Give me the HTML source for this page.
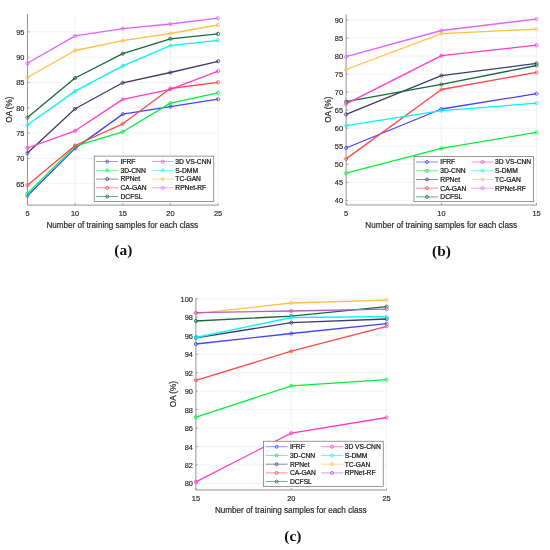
<!DOCTYPE html>
<html><head><meta charset="utf-8"><title>OA vs training samples</title>
<style>
html,body{margin:0;padding:0;background:#fff;}
svg{display:block}
.t{font-family:"Liberation Sans",sans-serif;font-size:7.4px;fill:#2e2e2e;stroke:#2e2e2e;stroke-width:0.2px}
.l{font-family:"Liberation Sans",sans-serif;font-size:8.13px;fill:#2e2e2e;stroke:#2e2e2e;stroke-width:0.2px}
.g{font-family:"Liberation Sans",sans-serif;font-size:6.7px;fill:#151515;stroke:#151515;stroke-width:0.22px}
.c{font-family:"Liberation Serif",serif;font-weight:bold;font-size:15.4px;fill:#111}
</style></head><body>
<svg width="550" height="550" viewBox="0 0 550 550">
<rect width="550" height="550" fill="#fff"/>
<g><line x1="75.1" y1="14.1" x2="75.1" y2="205.1" stroke="#efefef" stroke-width="0.8"/>
<line x1="122.75" y1="14.1" x2="122.75" y2="205.1" stroke="#efefef" stroke-width="0.8"/>
<line x1="170.4" y1="14.1" x2="170.4" y2="205.1" stroke="#efefef" stroke-width="0.8"/>
<line x1="218.05" y1="14.1" x2="218.05" y2="205.1" stroke="#efefef" stroke-width="0.8"/>
<line x1="27.45" y1="31.85" x2="218.05" y2="31.85" stroke="#efefef" stroke-width="0.8"/>
<line x1="27.45" y1="57.15" x2="218.05" y2="57.15" stroke="#efefef" stroke-width="0.8"/>
<line x1="27.45" y1="82.45" x2="218.05" y2="82.45" stroke="#efefef" stroke-width="0.8"/>
<line x1="27.45" y1="107.75" x2="218.05" y2="107.75" stroke="#efefef" stroke-width="0.8"/>
<line x1="27.45" y1="133.05" x2="218.05" y2="133.05" stroke="#efefef" stroke-width="0.8"/>
<line x1="27.45" y1="158.35" x2="218.05" y2="158.35" stroke="#efefef" stroke-width="0.8"/>
<line x1="27.45" y1="183.65" x2="218.05" y2="183.65" stroke="#efefef" stroke-width="0.8"/>
<path d="M27.45 14.1V205.1H218.45000000000002" fill="none" stroke="#8a8a8a" stroke-width="0.92"/>
<line x1="27.45" y1="205.1" x2="27.45" y2="203.1" stroke="#8a8a8a" stroke-width="0.7"/>
<line x1="75.1" y1="205.1" x2="75.1" y2="203.1" stroke="#8a8a8a" stroke-width="0.7"/>
<line x1="122.75" y1="205.1" x2="122.75" y2="203.1" stroke="#8a8a8a" stroke-width="0.7"/>
<line x1="170.4" y1="205.1" x2="170.4" y2="203.1" stroke="#8a8a8a" stroke-width="0.7"/>
<line x1="218.05" y1="205.1" x2="218.05" y2="203.1" stroke="#8a8a8a" stroke-width="0.7"/>
<line x1="27.45" y1="31.85" x2="29.45" y2="31.85" stroke="#8a8a8a" stroke-width="0.7"/>
<line x1="27.45" y1="57.15" x2="29.45" y2="57.15" stroke="#8a8a8a" stroke-width="0.7"/>
<line x1="27.45" y1="82.45" x2="29.45" y2="82.45" stroke="#8a8a8a" stroke-width="0.7"/>
<line x1="27.45" y1="107.75" x2="29.45" y2="107.75" stroke="#8a8a8a" stroke-width="0.7"/>
<line x1="27.45" y1="133.05" x2="29.45" y2="133.05" stroke="#8a8a8a" stroke-width="0.7"/>
<line x1="27.45" y1="158.35" x2="29.45" y2="158.35" stroke="#8a8a8a" stroke-width="0.7"/>
<line x1="27.45" y1="183.65" x2="29.45" y2="183.65" stroke="#8a8a8a" stroke-width="0.7"/>
<text x="27.45" y="216.2" text-anchor="middle" class="t">5</text>
<text x="75.1" y="216.2" text-anchor="middle" class="t">10</text>
<text x="122.75" y="216.2" text-anchor="middle" class="t">15</text>
<text x="170.4" y="216.2" text-anchor="middle" class="t">20</text>
<text x="218.05" y="216.2" text-anchor="middle" class="t">25</text>
<text x="24.45" y="34.85" text-anchor="end" class="t">95</text>
<text x="24.45" y="60.15" text-anchor="end" class="t">90</text>
<text x="24.45" y="85.45" text-anchor="end" class="t">85</text>
<text x="24.45" y="110.75" text-anchor="end" class="t">80</text>
<text x="24.45" y="136.05" text-anchor="end" class="t">75</text>
<text x="24.45" y="161.35" text-anchor="end" class="t">70</text>
<text x="24.45" y="186.65" text-anchor="end" class="t">65</text>
<text transform="translate(11.6 109.6) rotate(-90)" text-anchor="middle" class="l">OA (%)</text>
<text x="122.3" y="227.85" text-anchor="middle" class="l">Number of training samples for each class</text>
<polyline points="27.45,195.7 75.1,148.4 122.75,114.1 170.4,106.7 218.05,99.2" fill="none" stroke="#4444ff" stroke-width="1.3" stroke-linejoin="round"/>
<circle cx="27.45" cy="195.7" r="1.6" fill="none" stroke="#4444ff" stroke-width="0.8"/>
<circle cx="75.1" cy="148.4" r="1.6" fill="none" stroke="#4444ff" stroke-width="0.8"/>
<circle cx="122.75" cy="114.1" r="1.6" fill="none" stroke="#4444ff" stroke-width="0.8"/>
<circle cx="170.4" cy="106.7" r="1.6" fill="none" stroke="#4444ff" stroke-width="0.8"/>
<circle cx="218.05" cy="99.2" r="1.6" fill="none" stroke="#4444ff" stroke-width="0.8"/>
<polyline points="27.45,193.5 75.1,146.1 122.75,131.8 170.4,103.1 218.05,92.8" fill="none" stroke="#00f03c" stroke-width="1.3" stroke-linejoin="round"/>
<circle cx="27.45" cy="193.5" r="1.6" fill="none" stroke="#00f03c" stroke-width="0.8"/>
<circle cx="75.1" cy="146.1" r="1.6" fill="none" stroke="#00f03c" stroke-width="0.8"/>
<circle cx="122.75" cy="131.8" r="1.6" fill="none" stroke="#00f03c" stroke-width="0.8"/>
<circle cx="170.4" cy="103.1" r="1.6" fill="none" stroke="#00f03c" stroke-width="0.8"/>
<circle cx="218.05" cy="92.8" r="1.6" fill="none" stroke="#00f03c" stroke-width="0.8"/>
<polyline points="27.45,153.1 75.1,108.8 122.75,82.8 170.4,72.5 218.05,61.3" fill="none" stroke="#3c3c6e" stroke-width="1.3" stroke-linejoin="round"/>
<circle cx="27.45" cy="153.1" r="1.6" fill="none" stroke="#3c3c6e" stroke-width="0.8"/>
<circle cx="75.1" cy="108.8" r="1.6" fill="none" stroke="#3c3c6e" stroke-width="0.8"/>
<circle cx="122.75" cy="82.8" r="1.6" fill="none" stroke="#3c3c6e" stroke-width="0.8"/>
<circle cx="170.4" cy="72.5" r="1.6" fill="none" stroke="#3c3c6e" stroke-width="0.8"/>
<circle cx="218.05" cy="61.3" r="1.6" fill="none" stroke="#3c3c6e" stroke-width="0.8"/>
<polyline points="27.45,185.2 75.1,145.5 122.75,123.8 170.4,88.5 218.05,82.3" fill="none" stroke="#ff4848" stroke-width="1.3" stroke-linejoin="round"/>
<circle cx="27.45" cy="185.2" r="1.6" fill="none" stroke="#ff4848" stroke-width="0.8"/>
<circle cx="75.1" cy="145.5" r="1.6" fill="none" stroke="#ff4848" stroke-width="0.8"/>
<circle cx="122.75" cy="123.8" r="1.6" fill="none" stroke="#ff4848" stroke-width="0.8"/>
<circle cx="170.4" cy="88.5" r="1.6" fill="none" stroke="#ff4848" stroke-width="0.8"/>
<circle cx="218.05" cy="82.3" r="1.6" fill="none" stroke="#ff4848" stroke-width="0.8"/>
<polyline points="27.45,117.6 75.1,78.0 122.75,53.7 170.4,38.8 218.05,33.9" fill="none" stroke="#17683a" stroke-width="1.3" stroke-linejoin="round"/>
<circle cx="27.45" cy="117.6" r="1.6" fill="none" stroke="#17683a" stroke-width="0.8"/>
<circle cx="75.1" cy="78.0" r="1.6" fill="none" stroke="#17683a" stroke-width="0.8"/>
<circle cx="122.75" cy="53.7" r="1.6" fill="none" stroke="#17683a" stroke-width="0.8"/>
<circle cx="170.4" cy="38.8" r="1.6" fill="none" stroke="#17683a" stroke-width="0.8"/>
<circle cx="218.05" cy="33.9" r="1.6" fill="none" stroke="#17683a" stroke-width="0.8"/>
<polyline points="27.45,148.0 75.1,130.8 122.75,99.4 170.4,89.3 218.05,71.2" fill="none" stroke="#ff3cc8" stroke-width="1.3" stroke-linejoin="round"/>
<circle cx="27.45" cy="148.0" r="1.6" fill="none" stroke="#ff3cc8" stroke-width="0.8"/>
<circle cx="75.1" cy="130.8" r="1.6" fill="none" stroke="#ff3cc8" stroke-width="0.8"/>
<circle cx="122.75" cy="99.4" r="1.6" fill="none" stroke="#ff3cc8" stroke-width="0.8"/>
<circle cx="170.4" cy="89.3" r="1.6" fill="none" stroke="#ff3cc8" stroke-width="0.8"/>
<circle cx="218.05" cy="71.2" r="1.6" fill="none" stroke="#ff3cc8" stroke-width="0.8"/>
<polyline points="27.45,125.0 75.1,91.1 122.75,65.9 170.4,45.7 218.05,40.3" fill="none" stroke="#00f5f5" stroke-width="1.3" stroke-linejoin="round"/>
<circle cx="27.45" cy="125.0" r="1.6" fill="none" stroke="#00f5f5" stroke-width="0.8"/>
<circle cx="75.1" cy="91.1" r="1.6" fill="none" stroke="#00f5f5" stroke-width="0.8"/>
<circle cx="122.75" cy="65.9" r="1.6" fill="none" stroke="#00f5f5" stroke-width="0.8"/>
<circle cx="170.4" cy="45.7" r="1.6" fill="none" stroke="#00f5f5" stroke-width="0.8"/>
<circle cx="218.05" cy="40.3" r="1.6" fill="none" stroke="#00f5f5" stroke-width="0.8"/>
<polyline points="27.45,77.5 75.1,50.5 122.75,40.7 170.4,33.5 218.05,25.0" fill="none" stroke="#ffbf48" stroke-width="1.3" stroke-linejoin="round"/>
<circle cx="27.45" cy="77.5" r="1.6" fill="none" stroke="#ffbf48" stroke-width="0.8"/>
<circle cx="75.1" cy="50.5" r="1.6" fill="none" stroke="#ffbf48" stroke-width="0.8"/>
<circle cx="122.75" cy="40.7" r="1.6" fill="none" stroke="#ffbf48" stroke-width="0.8"/>
<circle cx="170.4" cy="33.5" r="1.6" fill="none" stroke="#ffbf48" stroke-width="0.8"/>
<circle cx="218.05" cy="25.0" r="1.6" fill="none" stroke="#ffbf48" stroke-width="0.8"/>
<polyline points="27.45,63.3 75.1,35.9 122.75,28.7 170.4,24.0 218.05,18.2" fill="none" stroke="#e264ff" stroke-width="1.3" stroke-linejoin="round"/>
<circle cx="27.45" cy="63.3" r="1.6" fill="none" stroke="#e264ff" stroke-width="0.8"/>
<circle cx="75.1" cy="35.9" r="1.6" fill="none" stroke="#e264ff" stroke-width="0.8"/>
<circle cx="122.75" cy="28.7" r="1.6" fill="none" stroke="#e264ff" stroke-width="0.8"/>
<circle cx="170.4" cy="24.0" r="1.6" fill="none" stroke="#e264ff" stroke-width="0.8"/>
<circle cx="218.05" cy="18.2" r="1.6" fill="none" stroke="#e264ff" stroke-width="0.8"/>
<rect x="94.2" y="156.1" width="119.6" height="45.2" fill="#fff" stroke="#555" stroke-width="0.6"/>
<line x1="96.2" y1="161.6" x2="118.2" y2="161.6" stroke="#4444ff" stroke-width="0.7" opacity="0.85"/>
<circle cx="107.2" cy="161.6" r="1.5" fill="none" stroke="#4444ff" stroke-width="0.8"/>
<text x="120.5" y="163.95" class="g">IFRF</text>
<line x1="96.2" y1="170.35" x2="118.2" y2="170.35" stroke="#00f03c" stroke-width="0.7" opacity="0.85"/>
<circle cx="107.2" cy="170.35" r="1.5" fill="none" stroke="#00f03c" stroke-width="0.8"/>
<text x="120.5" y="172.7" class="g">3D-CNN</text>
<line x1="96.2" y1="179.1" x2="118.2" y2="179.1" stroke="#3c3c6e" stroke-width="0.7" opacity="0.85"/>
<circle cx="107.2" cy="179.1" r="1.5" fill="none" stroke="#3c3c6e" stroke-width="0.8"/>
<text x="120.5" y="181.45" class="g">RPNet</text>
<line x1="96.2" y1="187.79999999999998" x2="118.2" y2="187.79999999999998" stroke="#ff4848" stroke-width="0.7" opacity="0.85"/>
<circle cx="107.2" cy="187.79999999999998" r="1.5" fill="none" stroke="#ff4848" stroke-width="0.8"/>
<text x="120.5" y="190.14999999999998" class="g">CA-GAN</text>
<line x1="96.2" y1="196.5" x2="118.2" y2="196.5" stroke="#17683a" stroke-width="0.7" opacity="0.85"/>
<circle cx="107.2" cy="196.5" r="1.5" fill="none" stroke="#17683a" stroke-width="0.8"/>
<text x="120.5" y="198.85" class="g">DCFSL</text>
<line x1="151.7" y1="161.6" x2="173.7" y2="161.6" stroke="#ff3cc8" stroke-width="0.7" opacity="0.85"/>
<circle cx="162.7" cy="161.6" r="1.5" fill="none" stroke="#ff3cc8" stroke-width="0.8"/>
<text x="175.29999999999998" y="163.95" class="g">3D VS-CNN</text>
<line x1="151.7" y1="170.35" x2="173.7" y2="170.35" stroke="#00f5f5" stroke-width="0.7" opacity="0.85"/>
<circle cx="162.7" cy="170.35" r="1.5" fill="none" stroke="#00f5f5" stroke-width="0.8"/>
<text x="175.29999999999998" y="172.7" class="g">S-DMM</text>
<line x1="151.7" y1="179.1" x2="173.7" y2="179.1" stroke="#ffbf48" stroke-width="0.7" opacity="0.85"/>
<circle cx="162.7" cy="179.1" r="1.5" fill="none" stroke="#ffbf48" stroke-width="0.8"/>
<text x="175.29999999999998" y="181.45" class="g">TC-GAN</text>
<line x1="151.7" y1="187.79999999999998" x2="173.7" y2="187.79999999999998" stroke="#e264ff" stroke-width="0.7" opacity="0.85"/>
<circle cx="162.7" cy="187.79999999999998" r="1.5" fill="none" stroke="#e264ff" stroke-width="0.8"/>
<text x="175.29999999999998" y="190.14999999999998" class="g">RPNet-RF</text>
<text x="123.3" y="255.2" text-anchor="middle" class="c">(a)</text></g>
<g><line x1="441.4" y1="14.5" x2="441.4" y2="205.0" stroke="#efefef" stroke-width="0.8"/>
<line x1="536.5" y1="14.5" x2="536.5" y2="205.0" stroke="#efefef" stroke-width="0.8"/>
<line x1="346.1" y1="19.95" x2="536.5" y2="19.95" stroke="#efefef" stroke-width="0.8"/>
<line x1="346.1" y1="38.0" x2="536.5" y2="38.0" stroke="#efefef" stroke-width="0.8"/>
<line x1="346.1" y1="56.04" x2="536.5" y2="56.04" stroke="#efefef" stroke-width="0.8"/>
<line x1="346.1" y1="74.09" x2="536.5" y2="74.09" stroke="#efefef" stroke-width="0.8"/>
<line x1="346.1" y1="92.13" x2="536.5" y2="92.13" stroke="#efefef" stroke-width="0.8"/>
<line x1="346.1" y1="110.18" x2="536.5" y2="110.18" stroke="#efefef" stroke-width="0.8"/>
<line x1="346.1" y1="128.22" x2="536.5" y2="128.22" stroke="#efefef" stroke-width="0.8"/>
<line x1="346.1" y1="146.27" x2="536.5" y2="146.27" stroke="#efefef" stroke-width="0.8"/>
<line x1="346.1" y1="164.31" x2="536.5" y2="164.31" stroke="#efefef" stroke-width="0.8"/>
<line x1="346.1" y1="182.36" x2="536.5" y2="182.36" stroke="#efefef" stroke-width="0.8"/>
<line x1="346.1" y1="200.4" x2="536.5" y2="200.4" stroke="#efefef" stroke-width="0.8"/>
<path d="M346.1 14.5V205.0H536.9" fill="none" stroke="#8a8a8a" stroke-width="0.92"/>
<line x1="346.1" y1="205.0" x2="346.1" y2="203.0" stroke="#8a8a8a" stroke-width="0.7"/>
<line x1="441.4" y1="205.0" x2="441.4" y2="203.0" stroke="#8a8a8a" stroke-width="0.7"/>
<line x1="536.5" y1="205.0" x2="536.5" y2="203.0" stroke="#8a8a8a" stroke-width="0.7"/>
<line x1="346.1" y1="19.95" x2="348.1" y2="19.95" stroke="#8a8a8a" stroke-width="0.7"/>
<line x1="346.1" y1="38.0" x2="348.1" y2="38.0" stroke="#8a8a8a" stroke-width="0.7"/>
<line x1="346.1" y1="56.04" x2="348.1" y2="56.04" stroke="#8a8a8a" stroke-width="0.7"/>
<line x1="346.1" y1="74.09" x2="348.1" y2="74.09" stroke="#8a8a8a" stroke-width="0.7"/>
<line x1="346.1" y1="92.13" x2="348.1" y2="92.13" stroke="#8a8a8a" stroke-width="0.7"/>
<line x1="346.1" y1="110.18" x2="348.1" y2="110.18" stroke="#8a8a8a" stroke-width="0.7"/>
<line x1="346.1" y1="128.22" x2="348.1" y2="128.22" stroke="#8a8a8a" stroke-width="0.7"/>
<line x1="346.1" y1="146.27" x2="348.1" y2="146.27" stroke="#8a8a8a" stroke-width="0.7"/>
<line x1="346.1" y1="164.31" x2="348.1" y2="164.31" stroke="#8a8a8a" stroke-width="0.7"/>
<line x1="346.1" y1="182.36" x2="348.1" y2="182.36" stroke="#8a8a8a" stroke-width="0.7"/>
<line x1="346.1" y1="200.4" x2="348.1" y2="200.4" stroke="#8a8a8a" stroke-width="0.7"/>
<text x="346.1" y="216.1" text-anchor="middle" class="t">5</text>
<text x="441.4" y="216.1" text-anchor="middle" class="t">10</text>
<text x="536.5" y="216.1" text-anchor="middle" class="t">15</text>
<text x="343.1" y="22.95" text-anchor="end" class="t">90</text>
<text x="343.1" y="41.0" text-anchor="end" class="t">85</text>
<text x="343.1" y="59.04" text-anchor="end" class="t">80</text>
<text x="343.1" y="77.09" text-anchor="end" class="t">75</text>
<text x="343.1" y="95.13" text-anchor="end" class="t">70</text>
<text x="343.1" y="113.18" text-anchor="end" class="t">65</text>
<text x="343.1" y="131.22" text-anchor="end" class="t">60</text>
<text x="343.1" y="149.27" text-anchor="end" class="t">55</text>
<text x="343.1" y="167.31" text-anchor="end" class="t">50</text>
<text x="343.1" y="185.36" text-anchor="end" class="t">45</text>
<text x="343.1" y="203.4" text-anchor="end" class="t">40</text>
<text transform="translate(331.2 109.75) rotate(-90)" text-anchor="middle" class="l">OA (%)</text>
<text x="441.2" y="227.85" text-anchor="middle" class="l">Number of training samples for each class</text>
<polyline points="346.1,148.0 441.4,109.0 536.5,93.7" fill="none" stroke="#4444ff" stroke-width="1.3" stroke-linejoin="round"/>
<circle cx="346.1" cy="148.0" r="1.6" fill="none" stroke="#4444ff" stroke-width="0.8"/>
<circle cx="441.4" cy="109.0" r="1.6" fill="none" stroke="#4444ff" stroke-width="0.8"/>
<circle cx="536.5" cy="93.7" r="1.6" fill="none" stroke="#4444ff" stroke-width="0.8"/>
<polyline points="346.1,173.2 441.4,148.4 536.5,132.3" fill="none" stroke="#00f03c" stroke-width="1.3" stroke-linejoin="round"/>
<circle cx="346.1" cy="173.2" r="1.6" fill="none" stroke="#00f03c" stroke-width="0.8"/>
<circle cx="441.4" cy="148.4" r="1.6" fill="none" stroke="#00f03c" stroke-width="0.8"/>
<circle cx="536.5" cy="132.3" r="1.6" fill="none" stroke="#00f03c" stroke-width="0.8"/>
<polyline points="346.1,114.4 441.4,75.6 536.5,63.4" fill="none" stroke="#3c3c6e" stroke-width="1.3" stroke-linejoin="round"/>
<circle cx="346.1" cy="114.4" r="1.6" fill="none" stroke="#3c3c6e" stroke-width="0.8"/>
<circle cx="441.4" cy="75.6" r="1.6" fill="none" stroke="#3c3c6e" stroke-width="0.8"/>
<circle cx="536.5" cy="63.4" r="1.6" fill="none" stroke="#3c3c6e" stroke-width="0.8"/>
<polyline points="346.1,158.9 441.4,89.5 536.5,72.4" fill="none" stroke="#ff4848" stroke-width="1.3" stroke-linejoin="round"/>
<circle cx="346.1" cy="158.9" r="1.6" fill="none" stroke="#ff4848" stroke-width="0.8"/>
<circle cx="441.4" cy="89.5" r="1.6" fill="none" stroke="#ff4848" stroke-width="0.8"/>
<circle cx="536.5" cy="72.4" r="1.6" fill="none" stroke="#ff4848" stroke-width="0.8"/>
<polyline points="346.1,101.6 441.4,84.4 536.5,65.5" fill="none" stroke="#17683a" stroke-width="1.3" stroke-linejoin="round"/>
<circle cx="346.1" cy="101.6" r="1.6" fill="none" stroke="#17683a" stroke-width="0.8"/>
<circle cx="441.4" cy="84.4" r="1.6" fill="none" stroke="#17683a" stroke-width="0.8"/>
<circle cx="536.5" cy="65.5" r="1.6" fill="none" stroke="#17683a" stroke-width="0.8"/>
<polyline points="346.1,103.9 441.4,55.7 536.5,45.2" fill="none" stroke="#ff3cc8" stroke-width="1.3" stroke-linejoin="round"/>
<circle cx="346.1" cy="103.9" r="1.6" fill="none" stroke="#ff3cc8" stroke-width="0.8"/>
<circle cx="441.4" cy="55.7" r="1.6" fill="none" stroke="#ff3cc8" stroke-width="0.8"/>
<circle cx="536.5" cy="45.2" r="1.6" fill="none" stroke="#ff3cc8" stroke-width="0.8"/>
<polyline points="346.1,125.7 441.4,110.7 536.5,103.2" fill="none" stroke="#00f5f5" stroke-width="1.3" stroke-linejoin="round"/>
<circle cx="346.1" cy="125.7" r="1.6" fill="none" stroke="#00f5f5" stroke-width="0.8"/>
<circle cx="441.4" cy="110.7" r="1.6" fill="none" stroke="#00f5f5" stroke-width="0.8"/>
<circle cx="536.5" cy="103.2" r="1.6" fill="none" stroke="#00f5f5" stroke-width="0.8"/>
<polyline points="346.1,69.5 441.4,33.7 536.5,29.1" fill="none" stroke="#ffbf48" stroke-width="1.3" stroke-linejoin="round"/>
<circle cx="346.1" cy="69.5" r="1.6" fill="none" stroke="#ffbf48" stroke-width="0.8"/>
<circle cx="441.4" cy="33.7" r="1.6" fill="none" stroke="#ffbf48" stroke-width="0.8"/>
<circle cx="536.5" cy="29.1" r="1.6" fill="none" stroke="#ffbf48" stroke-width="0.8"/>
<polyline points="346.1,56.7 441.4,30.5 536.5,19.1" fill="none" stroke="#e264ff" stroke-width="1.3" stroke-linejoin="round"/>
<circle cx="346.1" cy="56.7" r="1.6" fill="none" stroke="#e264ff" stroke-width="0.8"/>
<circle cx="441.4" cy="30.5" r="1.6" fill="none" stroke="#e264ff" stroke-width="0.8"/>
<circle cx="536.5" cy="19.1" r="1.6" fill="none" stroke="#e264ff" stroke-width="0.8"/>
<rect x="414.0" y="156.5" width="119.6" height="45.2" fill="#fff" stroke="#555" stroke-width="0.6"/>
<line x1="416.0" y1="162.0" x2="438.0" y2="162.0" stroke="#4444ff" stroke-width="0.7" opacity="0.85"/>
<circle cx="427.0" cy="162.0" r="1.5" fill="none" stroke="#4444ff" stroke-width="0.8"/>
<text x="440.3" y="164.35" class="g">IFRF</text>
<line x1="416.0" y1="170.75" x2="438.0" y2="170.75" stroke="#00f03c" stroke-width="0.7" opacity="0.85"/>
<circle cx="427.0" cy="170.75" r="1.5" fill="none" stroke="#00f03c" stroke-width="0.8"/>
<text x="440.3" y="173.1" class="g">3D-CNN</text>
<line x1="416.0" y1="179.5" x2="438.0" y2="179.5" stroke="#3c3c6e" stroke-width="0.7" opacity="0.85"/>
<circle cx="427.0" cy="179.5" r="1.5" fill="none" stroke="#3c3c6e" stroke-width="0.8"/>
<text x="440.3" y="181.85" class="g">RPNet</text>
<line x1="416.0" y1="188.2" x2="438.0" y2="188.2" stroke="#ff4848" stroke-width="0.7" opacity="0.85"/>
<circle cx="427.0" cy="188.2" r="1.5" fill="none" stroke="#ff4848" stroke-width="0.8"/>
<text x="440.3" y="190.54999999999998" class="g">CA-GAN</text>
<line x1="416.0" y1="196.9" x2="438.0" y2="196.9" stroke="#17683a" stroke-width="0.7" opacity="0.85"/>
<circle cx="427.0" cy="196.9" r="1.5" fill="none" stroke="#17683a" stroke-width="0.8"/>
<text x="440.3" y="199.25" class="g">DCFSL</text>
<line x1="471.5" y1="162.0" x2="493.5" y2="162.0" stroke="#ff3cc8" stroke-width="0.7" opacity="0.85"/>
<circle cx="482.5" cy="162.0" r="1.5" fill="none" stroke="#ff3cc8" stroke-width="0.8"/>
<text x="495.1" y="164.35" class="g">3D VS-CNN</text>
<line x1="471.5" y1="170.75" x2="493.5" y2="170.75" stroke="#00f5f5" stroke-width="0.7" opacity="0.85"/>
<circle cx="482.5" cy="170.75" r="1.5" fill="none" stroke="#00f5f5" stroke-width="0.8"/>
<text x="495.1" y="173.1" class="g">S-DMM</text>
<line x1="471.5" y1="179.5" x2="493.5" y2="179.5" stroke="#ffbf48" stroke-width="0.7" opacity="0.85"/>
<circle cx="482.5" cy="179.5" r="1.5" fill="none" stroke="#ffbf48" stroke-width="0.8"/>
<text x="495.1" y="181.85" class="g">TC-GAN</text>
<line x1="471.5" y1="188.2" x2="493.5" y2="188.2" stroke="#e264ff" stroke-width="0.7" opacity="0.85"/>
<circle cx="482.5" cy="188.2" r="1.5" fill="none" stroke="#e264ff" stroke-width="0.8"/>
<text x="495.1" y="190.54999999999998" class="g">RPNet-RF</text>
<text x="441.5" y="255.8" text-anchor="middle" class="c">(b)</text></g>
<g><line x1="291.3" y1="298.2" x2="291.3" y2="490.0" stroke="#efefef" stroke-width="0.8"/>
<line x1="386.6" y1="298.2" x2="386.6" y2="490.0" stroke="#efefef" stroke-width="0.8"/>
<line x1="195.9" y1="298.9" x2="386.6" y2="298.9" stroke="#efefef" stroke-width="0.8"/>
<line x1="195.9" y1="317.35" x2="386.6" y2="317.35" stroke="#efefef" stroke-width="0.8"/>
<line x1="195.9" y1="335.8" x2="386.6" y2="335.8" stroke="#efefef" stroke-width="0.8"/>
<line x1="195.9" y1="354.25" x2="386.6" y2="354.25" stroke="#efefef" stroke-width="0.8"/>
<line x1="195.9" y1="372.7" x2="386.6" y2="372.7" stroke="#efefef" stroke-width="0.8"/>
<line x1="195.9" y1="391.15" x2="386.6" y2="391.15" stroke="#efefef" stroke-width="0.8"/>
<line x1="195.9" y1="409.6" x2="386.6" y2="409.6" stroke="#efefef" stroke-width="0.8"/>
<line x1="195.9" y1="428.05" x2="386.6" y2="428.05" stroke="#efefef" stroke-width="0.8"/>
<line x1="195.9" y1="446.5" x2="386.6" y2="446.5" stroke="#efefef" stroke-width="0.8"/>
<line x1="195.9" y1="464.95" x2="386.6" y2="464.95" stroke="#efefef" stroke-width="0.8"/>
<line x1="195.9" y1="483.4" x2="386.6" y2="483.4" stroke="#efefef" stroke-width="0.8"/>
<path d="M195.9 298.2V490.0H387.0" fill="none" stroke="#8a8a8a" stroke-width="0.92"/>
<line x1="195.9" y1="490.0" x2="195.9" y2="488.0" stroke="#8a8a8a" stroke-width="0.7"/>
<line x1="291.3" y1="490.0" x2="291.3" y2="488.0" stroke="#8a8a8a" stroke-width="0.7"/>
<line x1="386.6" y1="490.0" x2="386.6" y2="488.0" stroke="#8a8a8a" stroke-width="0.7"/>
<line x1="195.9" y1="298.9" x2="197.9" y2="298.9" stroke="#8a8a8a" stroke-width="0.7"/>
<line x1="195.9" y1="317.35" x2="197.9" y2="317.35" stroke="#8a8a8a" stroke-width="0.7"/>
<line x1="195.9" y1="335.8" x2="197.9" y2="335.8" stroke="#8a8a8a" stroke-width="0.7"/>
<line x1="195.9" y1="354.25" x2="197.9" y2="354.25" stroke="#8a8a8a" stroke-width="0.7"/>
<line x1="195.9" y1="372.7" x2="197.9" y2="372.7" stroke="#8a8a8a" stroke-width="0.7"/>
<line x1="195.9" y1="391.15" x2="197.9" y2="391.15" stroke="#8a8a8a" stroke-width="0.7"/>
<line x1="195.9" y1="409.6" x2="197.9" y2="409.6" stroke="#8a8a8a" stroke-width="0.7"/>
<line x1="195.9" y1="428.05" x2="197.9" y2="428.05" stroke="#8a8a8a" stroke-width="0.7"/>
<line x1="195.9" y1="446.5" x2="197.9" y2="446.5" stroke="#8a8a8a" stroke-width="0.7"/>
<line x1="195.9" y1="464.95" x2="197.9" y2="464.95" stroke="#8a8a8a" stroke-width="0.7"/>
<line x1="195.9" y1="483.4" x2="197.9" y2="483.4" stroke="#8a8a8a" stroke-width="0.7"/>
<text x="195.9" y="501.1" text-anchor="middle" class="t">15</text>
<text x="291.3" y="501.1" text-anchor="middle" class="t">20</text>
<text x="386.6" y="501.1" text-anchor="middle" class="t">25</text>
<text x="192.9" y="301.9" text-anchor="end" class="t">100</text>
<text x="192.9" y="320.35" text-anchor="end" class="t">98</text>
<text x="192.9" y="338.8" text-anchor="end" class="t">96</text>
<text x="192.9" y="357.25" text-anchor="end" class="t">94</text>
<text x="192.9" y="375.7" text-anchor="end" class="t">92</text>
<text x="192.9" y="394.15" text-anchor="end" class="t">90</text>
<text x="192.9" y="412.6" text-anchor="end" class="t">88</text>
<text x="192.9" y="431.05" text-anchor="end" class="t">86</text>
<text x="192.9" y="449.5" text-anchor="end" class="t">84</text>
<text x="192.9" y="467.95" text-anchor="end" class="t">82</text>
<text x="192.9" y="486.4" text-anchor="end" class="t">80</text>
<text transform="translate(176.4 394.1) rotate(-90)" text-anchor="middle" class="l">OA (%)</text>
<text x="290.8" y="512.55" text-anchor="middle" class="l">Number of training samples for each class</text>
<polyline points="195.9,344.0 291.3,333.5 386.6,323.6" fill="none" stroke="#4444ff" stroke-width="1.3" stroke-linejoin="round"/>
<circle cx="195.9" cy="344.0" r="1.6" fill="none" stroke="#4444ff" stroke-width="0.8"/>
<circle cx="291.3" cy="333.5" r="1.6" fill="none" stroke="#4444ff" stroke-width="0.8"/>
<circle cx="386.6" cy="323.6" r="1.6" fill="none" stroke="#4444ff" stroke-width="0.8"/>
<polyline points="195.9,417.2 291.3,385.9 386.6,379.6" fill="none" stroke="#00f03c" stroke-width="1.3" stroke-linejoin="round"/>
<circle cx="195.9" cy="417.2" r="1.6" fill="none" stroke="#00f03c" stroke-width="0.8"/>
<circle cx="291.3" cy="385.9" r="1.6" fill="none" stroke="#00f03c" stroke-width="0.8"/>
<circle cx="386.6" cy="379.6" r="1.6" fill="none" stroke="#00f03c" stroke-width="0.8"/>
<polyline points="195.9,337.8 291.3,322.6 386.6,319.0" fill="none" stroke="#3c3c6e" stroke-width="1.3" stroke-linejoin="round"/>
<circle cx="195.9" cy="337.8" r="1.6" fill="none" stroke="#3c3c6e" stroke-width="0.8"/>
<circle cx="291.3" cy="322.6" r="1.6" fill="none" stroke="#3c3c6e" stroke-width="0.8"/>
<circle cx="386.6" cy="319.0" r="1.6" fill="none" stroke="#3c3c6e" stroke-width="0.8"/>
<polyline points="195.9,380.3 291.3,351.2 386.6,326.3" fill="none" stroke="#ff4848" stroke-width="1.3" stroke-linejoin="round"/>
<circle cx="195.9" cy="380.3" r="1.6" fill="none" stroke="#ff4848" stroke-width="0.8"/>
<circle cx="291.3" cy="351.2" r="1.6" fill="none" stroke="#ff4848" stroke-width="0.8"/>
<circle cx="386.6" cy="326.3" r="1.6" fill="none" stroke="#ff4848" stroke-width="0.8"/>
<polyline points="195.9,321.0 291.3,316.1 386.6,306.6" fill="none" stroke="#17683a" stroke-width="1.3" stroke-linejoin="round"/>
<circle cx="195.9" cy="321.0" r="1.6" fill="none" stroke="#17683a" stroke-width="0.8"/>
<circle cx="291.3" cy="316.1" r="1.6" fill="none" stroke="#17683a" stroke-width="0.8"/>
<circle cx="386.6" cy="306.6" r="1.6" fill="none" stroke="#17683a" stroke-width="0.8"/>
<polyline points="195.9,481.8 291.3,433.1 386.6,417.5" fill="none" stroke="#ff3cc8" stroke-width="1.3" stroke-linejoin="round"/>
<circle cx="195.9" cy="481.8" r="1.6" fill="none" stroke="#ff3cc8" stroke-width="0.8"/>
<circle cx="291.3" cy="433.1" r="1.6" fill="none" stroke="#ff3cc8" stroke-width="0.8"/>
<circle cx="386.6" cy="417.5" r="1.6" fill="none" stroke="#ff3cc8" stroke-width="0.8"/>
<polyline points="195.9,337.5 291.3,317.5 386.6,316.7" fill="none" stroke="#00f5f5" stroke-width="1.3" stroke-linejoin="round"/>
<circle cx="195.9" cy="337.5" r="1.6" fill="none" stroke="#00f5f5" stroke-width="0.8"/>
<circle cx="291.3" cy="317.5" r="1.6" fill="none" stroke="#00f5f5" stroke-width="0.8"/>
<circle cx="386.6" cy="316.7" r="1.6" fill="none" stroke="#00f5f5" stroke-width="0.8"/>
<polyline points="195.9,313.7 291.3,303.0 386.6,300.1" fill="none" stroke="#ffbf48" stroke-width="1.3" stroke-linejoin="round"/>
<circle cx="195.9" cy="313.7" r="1.6" fill="none" stroke="#ffbf48" stroke-width="0.8"/>
<circle cx="291.3" cy="303.0" r="1.6" fill="none" stroke="#ffbf48" stroke-width="0.8"/>
<circle cx="386.6" cy="300.1" r="1.6" fill="none" stroke="#ffbf48" stroke-width="0.8"/>
<polyline points="195.9,312.7 291.3,311.0 386.6,309.1" fill="none" stroke="#b45ec4" stroke-width="1.3" stroke-linejoin="round"/>
<circle cx="195.9" cy="312.7" r="1.6" fill="none" stroke="#b45ec4" stroke-width="0.8"/>
<circle cx="291.3" cy="311.0" r="1.6" fill="none" stroke="#b45ec4" stroke-width="0.8"/>
<circle cx="386.6" cy="309.1" r="1.6" fill="none" stroke="#b45ec4" stroke-width="0.8"/>
<rect x="263.6" y="441.2" width="119.6" height="45.2" fill="#fff" stroke="#555" stroke-width="0.6"/>
<line x1="265.6" y1="446.7" x2="287.6" y2="446.7" stroke="#4444ff" stroke-width="0.7" opacity="0.85"/>
<circle cx="276.6" cy="446.7" r="1.5" fill="none" stroke="#4444ff" stroke-width="0.8"/>
<text x="289.90000000000003" y="449.05" class="g">IFRF</text>
<line x1="265.6" y1="455.45" x2="287.6" y2="455.45" stroke="#00f03c" stroke-width="0.7" opacity="0.85"/>
<circle cx="276.6" cy="455.45" r="1.5" fill="none" stroke="#00f03c" stroke-width="0.8"/>
<text x="289.90000000000003" y="457.8" class="g">3D-CNN</text>
<line x1="265.6" y1="464.2" x2="287.6" y2="464.2" stroke="#3c3c6e" stroke-width="0.7" opacity="0.85"/>
<circle cx="276.6" cy="464.2" r="1.5" fill="none" stroke="#3c3c6e" stroke-width="0.8"/>
<text x="289.90000000000003" y="466.55" class="g">RPNet</text>
<line x1="265.6" y1="472.9" x2="287.6" y2="472.9" stroke="#ff4848" stroke-width="0.7" opacity="0.85"/>
<circle cx="276.6" cy="472.9" r="1.5" fill="none" stroke="#ff4848" stroke-width="0.8"/>
<text x="289.90000000000003" y="475.25" class="g">CA-GAN</text>
<line x1="265.6" y1="481.59999999999997" x2="287.6" y2="481.59999999999997" stroke="#17683a" stroke-width="0.7" opacity="0.85"/>
<circle cx="276.6" cy="481.59999999999997" r="1.5" fill="none" stroke="#17683a" stroke-width="0.8"/>
<text x="289.90000000000003" y="483.95" class="g">DCFSL</text>
<line x1="321.1" y1="446.7" x2="343.1" y2="446.7" stroke="#ff3cc8" stroke-width="0.7" opacity="0.85"/>
<circle cx="332.1" cy="446.7" r="1.5" fill="none" stroke="#ff3cc8" stroke-width="0.8"/>
<text x="344.70000000000005" y="449.05" class="g">3D VS-CNN</text>
<line x1="321.1" y1="455.45" x2="343.1" y2="455.45" stroke="#00f5f5" stroke-width="0.7" opacity="0.85"/>
<circle cx="332.1" cy="455.45" r="1.5" fill="none" stroke="#00f5f5" stroke-width="0.8"/>
<text x="344.70000000000005" y="457.8" class="g">S-DMM</text>
<line x1="321.1" y1="464.2" x2="343.1" y2="464.2" stroke="#ffbf48" stroke-width="0.7" opacity="0.85"/>
<circle cx="332.1" cy="464.2" r="1.5" fill="none" stroke="#ffbf48" stroke-width="0.8"/>
<text x="344.70000000000005" y="466.55" class="g">TC-GAN</text>
<line x1="321.1" y1="472.9" x2="343.1" y2="472.9" stroke="#b45ec4" stroke-width="0.7" opacity="0.85"/>
<circle cx="332.1" cy="472.9" r="1.5" fill="none" stroke="#b45ec4" stroke-width="0.8"/>
<text x="344.70000000000005" y="475.25" class="g">RPNet-RF</text>
<text x="292.8" y="540.7" text-anchor="middle" class="c">(c)</text></g>
</svg>
</body></html>
